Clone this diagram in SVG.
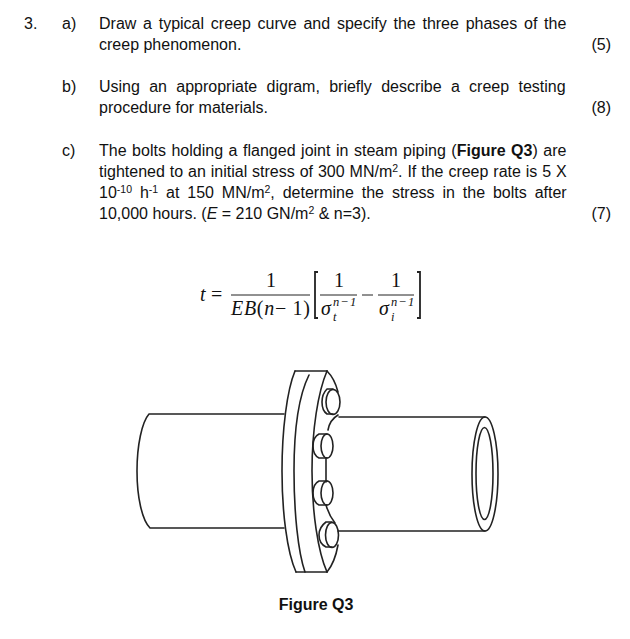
<svg xmlns="http://www.w3.org/2000/svg" width="630" height="639" viewBox="0 0 630 639">
<style>
text{font-family:"Liberation Sans",Arial,sans-serif;font-size:16px;fill:#111}
.b{font-weight:700}
.i{font-style:italic}
.s{font-size:10.5px}
.m{font-family:"Liberation Serif","DejaVu Serif",serif;font-size:20px}
.ms{font-family:"Liberation Serif","DejaVu Serif",serif;font-size:12.5px;letter-spacing:1.2px}
.l{fill:none;stroke:#222;stroke-width:1.6;stroke-linecap:round;stroke-linejoin:round}
.f{fill:none;stroke:#222;stroke-width:1}
.br{fill:none;stroke:#222;stroke-width:1.8}
</style>
<rect width="630" height="639" fill="#fff"/>
<g id="question">
<text x="24" y="29">3.</text>
<text x="62" y="29">a)</text>
<text x="99" y="29" word-spacing="2.3">Draw a typical creep curve and specify the three phases of the</text>
<text x="99" y="50">creep phenomenon.</text>
<text x="611" y="50" text-anchor="end">(5)</text>
<text x="62" y="92">b)</text>
<text x="99" y="92" word-spacing="4.85">Using an appropriate digram, briefly describe a creep testing</text>
<text x="99" y="113">procedure for materials.</text>
<text x="611" y="113" text-anchor="end">(8)</text>
<text x="62" y="156">c)</text>
<text x="99" y="156" word-spacing="1.1">The bolts holding a flanged joint in steam piping (<tspan class="b">Figure Q3</tspan>) are</text>
<text x="99" y="177" word-spacing="0.47">tightened to an initial stress of 300 MN/m<tspan class="s" dy="-5">2</tspan><tspan dy="5">. If the creep rate is 5 X</tspan></text>
<text x="99" y="198" word-spacing="3.45">10<tspan class="s" dy="-5">-10</tspan><tspan dy="5"> h</tspan><tspan class="s" dy="-5">-1</tspan><tspan dy="5"> at 150 MN/m</tspan><tspan class="s" dy="-5">2</tspan><tspan dy="5">, determine the stress in the bolts after</tspan></text>
<text x="99" y="219">10,000 hours. (<tspan class="i">E</tspan> = 210 GN/m<tspan class="s" dy="-5">2</tspan><tspan dy="5"> &amp; n=3).</tspan></text>
<text x="611" y="219" text-anchor="end">(7)</text>
</g>
<g id="formula">
<text class="m i" x="200" y="301">t</text>
<text class="m" x="211" y="301">=</text>
<text class="m" x="271" y="287" text-anchor="middle">1</text>
<path class="f" d="M231 295H310M320 295H357M378 295H414M362 295H373"/>
<text class="m" x="231" y="315" textLength="79"><tspan class="i">EB</tspan>(<tspan class="i">n</tspan>− 1)</text>
<path class="br" d="M318 272H315V318H318M417 272H420V318H417"/>
<text class="m" x="339" y="287" text-anchor="middle">1</text>
<text class="m i" x="321" y="315">σ</text>
<text class="ms i" x="333" y="306">n−1</text>
<text class="ms i" x="333" y="321">t</text>
<text class="m" x="396" y="287" text-anchor="middle">1</text>
<text class="m i" x="379" y="315">σ</text>
<text class="ms i" x="391" y="306">n−1</text>
<text class="ms i" x="391" y="321">i</text>
</g>
<g id="left-pipe">
<path class="l" d="M284 414H149C142 422 137 445 137 471C137 497 142 520 150 528H284"/>
</g>
<g id="right-pipe">
<path class="l" d="M339 417H485M338 531H485"/>
<ellipse class="l" cx="485" cy="474" rx="13" ry="57"/>
<ellipse class="l" cx="484.500" cy="473.500" rx="8.500" ry="46"/>
</g>
<g id="flange">
<path class="l" d="M295 371H327M296 572H327"/>
<path class="l" d="M295 371C287 390 282 430 282 471C282 512 287 552 296 572"/>
<path class="l" d="M309 375C299 395 294 430 294 471C294 512 298 552 305 572"/>
<path class="l" d="M327 371C318 392 312 430 312 471C312 512 318 552 327 572"/>
<path class="l" d="M327 371C332 376 336 384 338 392M338 415C333 418 329 424 328 430M326 458V482M326 505C328 512 331 518 335 523M338 545C336 556 332 566 327 572"/>
</g>
<g id="bolt-1">
<path class="l" d="M333 389H327C324 392 322 397 322 402C322 408 324 412 327 414H333"/>
<ellipse class="l" cx="333" cy="402" rx="7" ry="12.500"/>
</g>
<g id="bolt-2">
<path class="l" d="M327 434H319C315 436 313 441 313 446C313 452 315 456 319 458H327"/>
<ellipse class="l" cx="327" cy="446" rx="6" ry="12"/>
</g>
<g id="bolt-3">
<path class="l" d="M327 481H319C315 483 313 488 313 493C313 499 315 503 319 505H327"/>
<ellipse class="l" cx="327" cy="493" rx="6" ry="12"/>
</g>
<g id="bolt-4">
<path class="l" d="M332 522H326C322 525 319 530 319 535C319 541 322 545 326 547H332"/>
<ellipse class="l" cx="332" cy="535" rx="6.500" ry="12.500"/>
</g>
<text class="b" x="316" y="610" text-anchor="middle">Figure Q3</text>
</svg>
